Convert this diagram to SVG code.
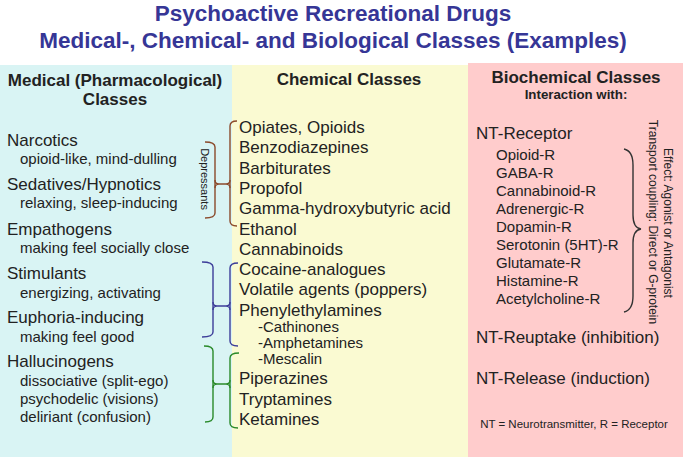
<svg xmlns="http://www.w3.org/2000/svg" width="685" height="457" viewBox="0 0 685 457">
<style>
text{font-family:"Liberation Sans",Arial,sans-serif;fill:#222}
.title{font-size:22.5px;font-weight:bold;fill:#363696;text-anchor:middle}
.head{font-size:17px;font-weight:bold;text-anchor:middle}
.sub{font-size:13.3px;font-weight:bold;text-anchor:middle}
.cls{font-size:17px}
.desc{font-size:15px}
.chem{font-size:17px}
.chemsub{font-size:15px}
.rec{font-size:15px}
.nt{font-size:17px}
.rot{font-size:11px}
.rot2{font-size:12px}
.note{font-size:11.5px;text-anchor:middle}
.br{fill:none;stroke-width:1.4}
</style>
<rect x="0" y="0" width="685" height="457" fill="#ffffff"/>
<g id="panels">
<rect x="0" y="65" width="232" height="392" fill="#d9f4f4"/>
<rect x="232" y="65" width="236" height="392" fill="#fafad2"/>
<rect x="468" y="63" width="215" height="394" fill="#ffcccc"/>
</g>
<g id="title">
<text class="title" x="333" y="21">Psychoactive Recreational Drugs</text>
<text class="title" x="333" y="48">Medical-, Chemical- and Biological Classes (Examples)</text>
</g>
<g id="medical">
<text class="head" x="115" y="86">Medical (Pharmacological)</text>
<text class="head" x="115" y="105">Classes</text>
<g id="narcotics"><text class="cls" x="7" y="146">Narcotics</text><text class="desc" x="20" y="164">opioid-like, mind-dulling</text></g>
<g id="sedatives"><text class="cls" x="7" y="190">Sedatives/Hypnotics</text><text class="desc" x="20" y="208">relaxing, sleep-inducing</text></g>
<g id="empathogens"><text class="cls" x="7" y="235">Empathogens</text><text class="desc" x="20" y="253">making feel socially close</text></g>
<g id="stimulants"><text class="cls" x="7" y="279">Stimulants</text><text class="desc" x="20" y="298">energizing, activating</text></g>
<g id="euphoria"><text class="cls" x="7" y="323">Euphoria-inducing</text><text class="desc" x="20" y="342">making feel good</text></g>
<g id="hallucinogens"><text class="cls" x="7" y="367">Hallucinogens</text><text class="desc" x="20" y="386">dissociative (split-ego)</text><text class="desc" x="20" y="404">psychodelic (visions)</text><text class="desc" x="20" y="422">deliriant (confusion)</text></g>
</g>
<g id="chemical">
<text class="head" x="349" y="85">Chemical Classes</text>
<text class="chem" x="239" y="133">Opiates, Opioids</text>
<text class="chem" x="239" y="153.3">Benzodiazepines</text>
<text class="chem" x="239" y="173.6">Barbiturates</text>
<text class="chem" x="239" y="193.9">Propofol</text>
<text class="chem" x="239" y="214.2">Gamma-hydroxybutyric acid</text>
<text class="chem" x="239" y="234.5">Ethanol</text>
<text class="chem" x="239" y="254.8">Cannabinoids</text>
<text class="chem" x="239" y="275.1">Cocaine-analogues</text>
<text class="chem" x="239" y="295.4">Volatile agents (poppers)</text>
<text class="chem" x="239" y="315.7">Phenylethylamines</text>
<text class="chemsub" x="258" y="332">-Cathinones</text>
<text class="chemsub" x="258" y="348">-Amphetamines</text>
<text class="chemsub" x="258" y="364">-Mescalin</text>
<text class="chem" x="239" y="384.3">Piperazines</text>
<text class="chem" x="239" y="404.6">Tryptamines</text>
<text class="chem" x="239" y="425">Ketamines</text>
</g>
<g id="biochemical">
<text class="head" x="576" y="83">Biochemical Classes</text>
<text class="sub" x="576" y="99">Interaction with:</text>
<text class="nt" x="476" y="139">NT-Receptor</text>
<text class="rec" x="496" y="160">Opioid-R</text>
<text class="rec" x="496" y="178">GABA-R</text>
<text class="rec" x="496" y="196">Cannabinoid-R</text>
<text class="rec" x="496" y="214">Adrenergic-R</text>
<text class="rec" x="496" y="232">Dopamin-R</text>
<text class="rec" x="496" y="250">Serotonin (5HT)-R</text>
<text class="rec" x="496" y="268">Glutamate-R</text>
<text class="rec" x="496" y="286">Histamine-R</text>
<text class="rec" x="496" y="304">Acetylcholine-R</text>
<text class="rot2" transform="translate(664,223) rotate(90)" text-anchor="middle">Effect: Agonist or Antagonist</text>
<text class="rot2" transform="translate(649,222) rotate(90)" text-anchor="middle">Transport coupling: Direct or G-protein</text>
<text class="nt" x="476" y="343">NT-Reuptake (inhibition)</text>
<text class="nt" x="476" y="384">NT-Release (induction)</text>
<text class="note" x="574" y="428">NT = Neurotransmitter,  R = Receptor</text>
</g>
<g id="connectors">
<path class="br" stroke="#8b4a2b" d="M205,142 Q215,142 215,147 L215,213 Q215,218 205,218"/>
<path class="br" stroke="#8b4a2b" d="M215,180 Q215,184 219,184 L226,184 Q230,184 230,180 M215,188 Q215,184 219,184 M226,184 Q230,184 230,188"/>
<path class="br" stroke="#8b4a2b" d="M237,121 Q230,121 230,126 L230,221 Q230,226 237,226"/>
<text class="rot" transform="translate(201,179) rotate(90)" text-anchor="middle">Depressants</text>
<path class="br" stroke="#3d3d99" d="M202,262 Q213,262 213,267 L213,332 Q213,337 202,337"/>
<path class="br" stroke="#3d3d99" d="M213,302 Q213,306 217,306 L226,306 Q230,306 230,302 M213,310 Q213,306 217,306 M226,306 Q230,306 230,310"/>
<path class="br" stroke="#3d3d99" d="M238,263 Q230,263 230,268 L230,341 Q230,346 238,346"/>
<path class="br" stroke="#2a8a2a" d="M204,346 Q213,346 213,351 L213,417 Q213,422 205,422"/>
<path class="br" stroke="#2a8a2a" d="M213,380 Q213,384 217,384 L226,384 Q230,384 230,380 M213,388 Q213,384 217,384 M226,384 Q230,384 230,388"/>
<path class="br" stroke="#2a8a2a" d="M239,353 Q230,353 230,358 L230,423 Q230,428 238,428"/>
<path class="br" stroke="#333" stroke-width="1.2" d="M624,149 Q633,151 633,165 L633,215 Q633,228 641,229 Q633,230 633,243 L633,296 Q633,310 624,312"/>
</g>
</svg>
